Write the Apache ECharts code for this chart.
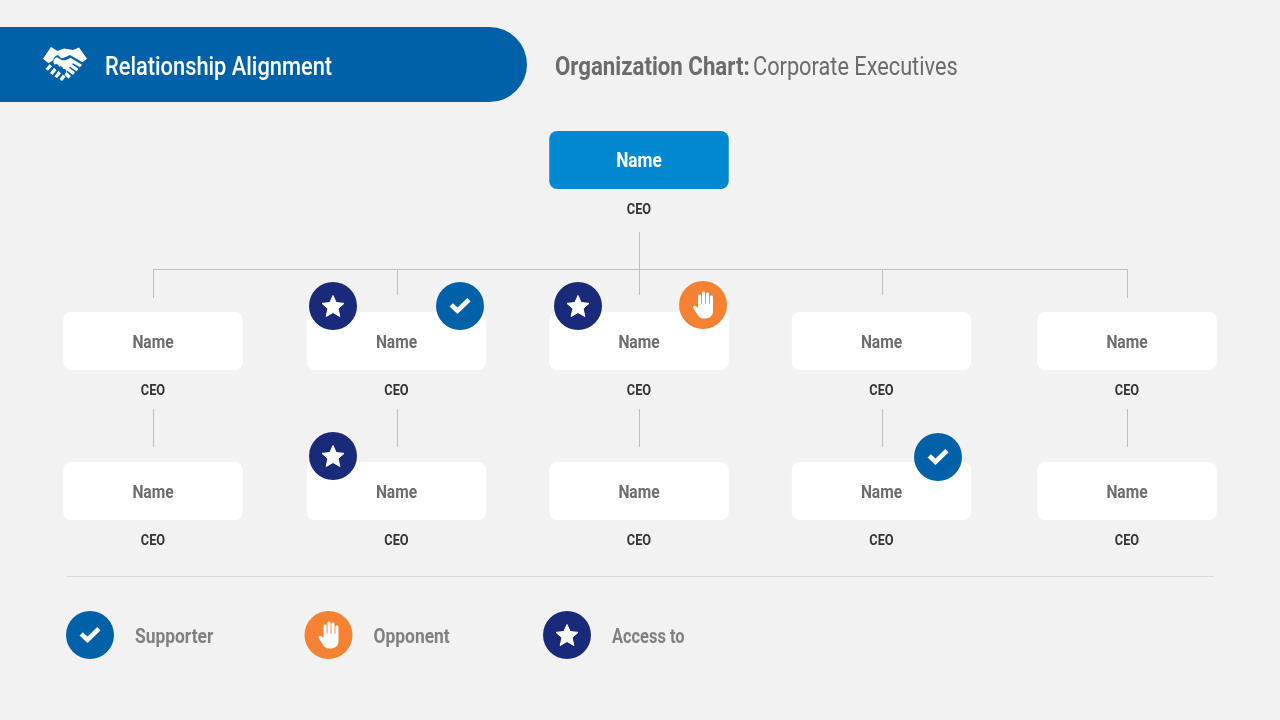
<!DOCTYPE html>
<html>
<head>
<meta charset="utf-8">
<title>Relationship Alignment</title>
<script src="https://cdn.jsdelivr.net/npm/echarts@6/dist/echarts.min.js"></script>
<style>
html,body{margin:0;padding:0;background:#f2f2f2;}
#chart{width:1280px;height:720px;}
</style>
</head>
<body>
<div id="chart"></div>
<script>
'use strict';

// chart content
var columns = ['c1','c2','c3','c4','c5'];
var levels = ['Top','Direct','Report'];

var nodeColumn = [2, 0,1,2,3,4, 0,1,2,3,4];
var nodeLevel  = [0, 1,1,1,1,1, 2,2,2,2,2];
var nodeParent = [-1, 0,0,0,0,0, 1,2,3,4,5];
var nodeNames  = ['Name','Name','Name','Name','Name','Name','Name','Name','Name','Name','Name'];
var nodeTitles = ['CEO','CEO','CEO','CEO','CEO','CEO','CEO','CEO','CEO','CEO','CEO'];

var badgeColumn = [1,1,2,2,1,3];
var badgeLevel  = [1,1,1,1,2,2];
var badgeKind   = ['access','supporter','access','opponent','access','supporter'];

var legendKinds  = ['supporter','opponent','access'];
var legendLabels = ['Supporter','Opponent','Access to'];

var headerTitle = 'Relationship Alignment';
var subtitleBold = 'Organization Chart:';
var subtitleRest = 'Corporate Executives';

// look
var FONT = 'Roboto,"Noto Sans",sans-serif';
var kindColor = {supporter:'#0061a9', opponent:'#f58233', access:'#1a2a7a'};
var kindIcon = {
	supporter:{w:21,h:16,path:'M0 8.5L3.4 5.2L8 9.6L17.8 0L21 3.4L8 16Z'},
	opponent:{w:20,h:27,path:'M5 5a1.4 1.4 0 0 1 2.8 0v8h-2.8zM8.6 2a1.4 1.4 0 0 1 2.8 0v11h-2.8zM12.2 3a1.4 1.4 0 0 1 2.8 0v10h-2.8zM15.8 6a1.4 1.4 0 0 1 2.8 0v8h-2.8zM5 12.5h13.6v7c0 4.5-2.6 7.5-6.6 7.5h-1.8c-2.8 0-4.4-1.4-5.7-3.6l-3.8-6.4c-1-2 1.2-3.4 2.6-2l1.7 2z'},
	access:{w:22,h:21,path:'M11 0.5L14 7.2L21.5 8L15.9 13L17.5 20.5L11 16.7L4.5 20.5L6.1 13L0.5 8L8 7.2Z'}
};
var handshakePath = 'M0 12L8 0.5L14.5 4.5L21 2L30 3.5L36 1L44 12L39.5 15.5L27 8.5C24 10 20.5 12 18 11.5L15 8.5C13 9 11 10.5 10 13.5L5.5 16.5ZM19 13.5C22.5 14 25 12.5 27.5 11L39 18L37 20.5L30 16.5L29 17.5L35.5 22L33.5 24.5L27 20L26 21L32 25.5L30 28L24.5 24L23.5 25L28 29L25.5 31.5L21.5 28L23 25.5C24 23.5 22 21.5 20 22.5C20.5 20 18 18.5 16 20C15.5 17.5 13 16.5 11.5 18C11 16 9 15 12 11.5L14 10.5ZM2.5 22L6.5 17.5L9 19.5L5 24ZM7 26L11 21L13.5 23.5L9.5 28ZM11.5 29.5L15.5 24L18 26.5L14 31ZM16.5 32L20 27.5L22.5 30L19 34Z';

// layout, relative to the axis scales
var columnNudge = [0,0,-1,-2,0];
var topLevelShift = -31;
var cardW = 179.5, cardH = 58, cardRadius = 8;
var titleGap = 48;
var badgeR = 24;
var badgeOffset = [[-63.5,-35],[63.5,-35],[-61,-35],[64,-36],[-63.5,-35],[56.5,-34]];
var busY = 269, stemTop = 232, dropBottom = 295, dropOuterBottom = 298;
var legendSqueeze = [0.87,0.87,0.82];

// the original face is a condensed one, so Roboto gets squeezed sideways
function squeezed(x, y, text, font, fill, sx, align){
	return {type:'text', x:x, y:y, scaleX:sx, style:{x:0, y:0, text:text, font:font, fill:fill,
		align:align||'left', verticalAlign:'middle'}};
}

function nodePoint(api, col, level){
	var p = api.coord([col, level]);
	return [p[0] + columnNudge[col], p[1] + (level === 0 ? topLevelShift : 0)];
}

function iconElements(kind, cx, cy){
	var ic = kindIcon[kind];
	return [
		{type:'circle', shape:{cx:cx, cy:cy, r:badgeR}, style:{fill:kindColor[kind]}},
		{type:'path', shape:{pathData:ic.path, x:cx-ic.w/2, y:cy-ic.h/2, width:ic.w, height:ic.h, layout:'cover'},
			style:{fill:'#fff', stroke:kind==='access'?'#fff':null, lineWidth:kind==='access'?1:0, lineJoin:'round'}}
	];
}

function renderDecor(){
	var kids = [
		{type:'rect', shape:{x:0, y:27, width:527, height:75, r:[0,37.5,37.5,0]}, style:{fill:'#0061a9'}},
		{type:'path', shape:{pathData:handshakePath, layout:'cover', x:43, y:47, width:44, height:34}, style:{fill:'#fff'}},
		squeezed(105, 68.5, headerTitle, '500 26px '+FONT, '#fff', 0.84),
		squeezed(555, 68.5, subtitleBold, 'bold 26px '+FONT, '#6b6b6b', 0.855),
		squeezed(753, 68.5, subtitleRest, '26px '+FONT, '#6b6b6b', 0.836),
		{type:'line', shape:{x1:67, y1:576.5, x2:1214, y2:576.5}, style:{stroke:'#d9d9d9', lineWidth:1}}
	];
	legendKinds.forEach(function(k,i){
		var cx = 90 + i*238.5, cy = 635;
		kids = kids.concat(iconElements(k, cx, cy));
		kids.push(squeezed(cx+45, cy+3, legendLabels[i], 'bold 20px '+FONT, '#808080', legendSqueeze[i]));
	});
	return {type:'group', children:kids};
}

function renderLink(params, api){
	var i = params.dataIndex, parent = nodeParent[i], level = nodeLevel[i], col = nodeColumn[i];
	if(parent < 0) return null;
	var c = nodePoint(api, col, level);
	var pp = nodePoint(api, nodeColumn[parent], nodeLevel[parent]);
	var lineStyle = {stroke:'#bfbfbf', lineWidth:1, fill:null};
	var x = Math.round(c[0]) + 0.5;
	if(level === 1){
		var outer = col === 0 || col === columns.length-1;
		return {type:'polyline', shape:{points:[
			[Math.round(pp[0])+0.5, busY+0.5], [x, busY+0.5], [x, outer ? dropOuterBottom : dropBottom]
		]}, style:lineStyle};
	}
	return {type:'line', shape:{x1:x, y1:c[1]-82, x2:x, y2:c[1]-44}, style:lineStyle};
}

function renderStem(params, api){
	var c = nodePoint(api, 2, 0);
	var x = Math.round(c[0]) + 0.5;
	return {type:'line', shape:{x1:x, y1:stemTop, x2:x, y2:busY}, style:{stroke:'#bfbfbf', lineWidth:1}};
}

function renderCard(params, api){
	var i = params.dataIndex;
	var c = nodePoint(api, nodeColumn[i], nodeLevel[i]);
	var isTop = nodeLevel[i] === 0;
	return {type:'group', children:[
		{type:'rect', shape:{x:c[0]-cardW/2, y:c[1]-cardH/2, width:cardW, height:cardH, r:cardRadius},
			style:{fill:isTop ? '#0288d1' : '#ffffff'}},
		squeezed(c[0], c[1]+2, nodeNames[i], 'bold '+(isTop?'21px ':'19px ')+FONT, isTop ? '#ffffff' : '#6d6d6d', 0.82, 'center'),
		squeezed(c[0], c[1]+titleGap+2, nodeTitles[i], 'bold 15px '+FONT, '#333333', 0.85, 'center')
	]};
}

function renderBadge(params, api){
	var i = params.dataIndex;
	var c = nodePoint(api, badgeColumn[i], badgeLevel[i]);
	var off = badgeOffset[i];
	return {type:'group', children:iconElements(badgeKind[i], c[0]+off[0], c[1]+off[1])};
}

var nodeData = nodeNames.map(function(n,i){ return [nodeColumn[i], nodeLevel[i]]; });
var badgeData = badgeKind.map(function(k,i){ return [badgeColumn[i], badgeLevel[i]]; });

var chart = echarts.init(document.getElementById('chart'), null, {renderer:'canvas'});
chart.setOption({
	animation:false,
	backgroundColor:'#f2f2f2',
	tooltip:{show:false},
	grid:{left:31.25, top:116, width:1217.5, height:450},
	xAxis:{type:'category', data:columns, show:false},
	yAxis:{type:'category', data:levels, inverse:true, show:false},
	series:[
		{type:'custom', z:1, renderItem:renderDecor, data:[[0,0]], silent:true, clip:false, encode:{x:0,y:1}},
		{type:'custom', z:1, renderItem:renderLink, data:nodeData, silent:true, clip:false, encode:{x:0,y:1}},
		{type:'custom', z:1, renderItem:renderStem, data:[[2,0]], silent:true, clip:false, encode:{x:0,y:1}},
		{type:'custom', z:2, renderItem:renderCard, data:nodeData, silent:true, clip:false, encode:{x:0,y:1}},
		{type:'custom', z:3, renderItem:renderBadge, data:badgeData, silent:true, clip:false, encode:{x:0,y:1}}
	]
});
</script>
</body>
</html>
